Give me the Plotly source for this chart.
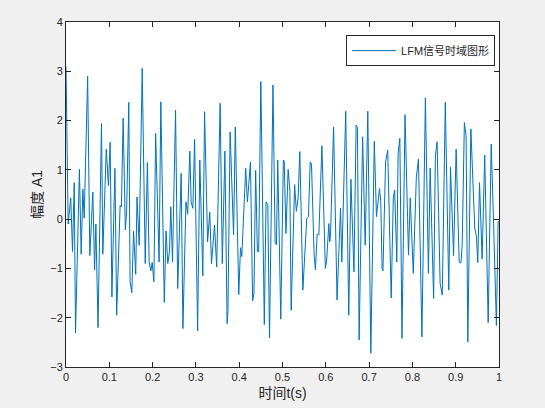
import plotly.graph_objects as go

# values (time in s, amplitude)
t = [
    0.000, 0.005, 0.011, 0.015, 0.019, 0.022, 0.031, 0.035, 0.039, 0.042,
    0.050, 0.055, 0.062, 0.066, 0.069, 0.074, 0.082, 0.085, 0.093, 0.098,
    0.102, 0.106, 0.113, 0.117, 0.125, 0.128, 0.132, 0.137, 0.140, 0.145,
    0.148, 0.152, 0.156, 0.161, 0.164, 0.169, 0.176, 0.183, 0.188, 0.192,
    0.196, 0.199, 0.203, 0.207, 0.215, 0.219, 0.227, 0.231, 0.235, 0.239,
    0.242, 0.246, 0.253, 0.258, 0.266, 0.270, 0.277, 0.281, 0.286, 0.289,
    0.293, 0.297, 0.304, 0.309, 0.316, 0.320, 0.327, 0.332, 0.336, 0.343,
    0.348, 0.356, 0.361, 0.367, 0.372, 0.374, 0.379, 0.387, 0.391, 0.399,
    0.403, 0.406, 0.415, 0.419, 0.426, 0.431, 0.434, 0.438, 0.442, 0.445,
    0.450, 0.458, 0.462, 0.466, 0.470, 0.478, 0.483, 0.486, 0.489, 0.496,
    0.502, 0.504, 0.508, 0.513, 0.517, 0.520, 0.528, 0.532, 0.536, 0.540,
    0.547, 0.556, 0.560, 0.564, 0.567, 0.573, 0.576, 0.580, 0.584, 0.591,
    0.599, 0.602, 0.607, 0.609, 0.611, 0.618, 0.626, 0.634, 0.637, 0.646,
    0.653, 0.658, 0.665, 0.670, 0.673, 0.677, 0.685, 0.691, 0.697, 0.704,
    0.712, 0.717, 0.724, 0.727, 0.730, 0.732, 0.738, 0.743, 0.751, 0.756,
    0.759, 0.764, 0.767, 0.771, 0.776, 0.783, 0.791, 0.795, 0.802, 0.809,
    0.814, 0.822, 0.830, 0.837, 0.841, 0.849, 0.853, 0.857, 0.864, 0.869,
    0.876, 0.884, 0.888, 0.895, 0.901, 0.908, 0.912, 0.915, 0.920, 0.924,
    0.928, 0.935, 0.944, 0.948, 0.951, 0.955, 0.961, 0.967, 0.975, 0.982,
    0.987, 0.994, 0.998, 1.000,
]
a1 = [
    3.09, -0.10, 0.43, -0.66, 0.74, -2.31, 1.01, -0.71, 0.61, 0.02,
    2.90, -0.74, 0.55, -1.03, -0.10, -2.20, 1.94, -0.71, 1.42, 0.68,
    1.56, -1.58, 1.03, -1.95, 0.28, 0.25, 2.05, -0.22, 0.15, 2.37,
    -1.27, -1.49, -0.24, -1.12, 0.45, -0.53, 3.06, -0.90, 1.15, -0.87,
    -1.05, -0.88, -1.27, 1.74, -0.87, 2.38, -1.69, -0.24, -0.90, -0.66,
    0.25, -0.87, 2.21, -1.41, 0.93, -2.22, 0.35, 0.10, 1.38, 0.35,
    0.22, 1.62, -2.27, 1.20, -1.15, 2.18, -0.46, 0.14, -0.90, -0.12,
    -0.97, 2.35, -0.90, 1.38, -2.12, -1.88, 1.77, -0.32, 1.87, -1.53,
    -0.58, -0.76, 1.03, 0.35, 1.16, -1.66, -1.51, 0.99, -0.66, -0.66,
    2.79, -2.14, 0.35, 0.30, -2.41, 2.72, -0.49, -0.52, 1.20, -2.03,
    1.20, 1.18, -0.29, 1.01, 0.59, -1.85, 0.70, 0.16, 0.42, 1.37,
    -1.44, 0.01, 0.05, 1.16, 1.12, -0.73, -1.03, -0.31, -0.31, 1.49,
    -1.00, -0.83, -0.09, -0.46, -0.30, 1.87, -1.64, 0.22, -0.87, 2.19,
    -1.95, 0.81, -1.07, 1.91, 1.85, -2.45, 1.67, -0.53, 2.19, -2.72,
    1.58, 0.05, 0.62, 0.35, -1.00, -1.05, 1.16, 1.40, -1.60, 0.45,
    0.59, -0.87, 1.33, 1.64, -2.42, 2.12, -0.73, 0.43, -1.10, 0.84,
    1.22, -2.39, 2.46, -1.10, 1.04, -1.61, 1.26, 1.57, -1.30, -1.54,
    2.37, -1.44, 1.06, -0.74, 1.42, -0.87, -0.89, -0.53, 1.96, 1.69,
    -2.49, 1.83, -0.18, -0.36, -0.88, 0.74, -0.81, 1.30, -2.10, 1.52,
    0.08, -2.16, -0.05, -0.05,
]

x_ticks = [0, 0.1, 0.2, 0.3, 0.4, 0.5, 0.6, 0.7, 0.8, 0.9, 1]
x_labels = ["0", "0.1", "0.2", "0.3", "0.4", "0.5", "0.6", "0.7", "0.8", "0.9", "1"]
y_ticks = [-3, -2, -1, 0, 1, 2, 3, 4]

AXIS_COLOR = "#262626"
BG = "#f0f0f0"
FONT = "Liberation Sans, Arial, sans-serif"
MIXED_FONT = "Liberation Sans, Noto Sans CJK SC, sans-serif"

fig = go.Figure()
fig.add_trace(go.Scatter(
    x=t,
    y=a1,
    mode="lines",
    line=dict(color="#0072BD", width=1),
    name="LFM信号时域图形",
))

axis_common = dict(
    showline=True,
    linecolor=AXIS_COLOR,
    linewidth=1,
    mirror="ticks",
    ticks="inside",
    ticklen=5,
    tickcolor=AXIS_COLOR,
    showgrid=False,
    zeroline=False,
    automargin=False,
    tickfont=dict(family=FONT, size=11, color=AXIS_COLOR),
)

fig.update_xaxes(
    range=[0, 1],
    tickvals=x_ticks,
    ticktext=x_labels,
    title=dict(text="时间t(s)", font=dict(family=MIXED_FONT, size=14, color=AXIS_COLOR), standoff=5),
    **axis_common,
)
fig.update_yaxes(
    range=[-3, 4],
    tickvals=y_ticks,
    title=dict(text="幅度 A1", font=dict(family=MIXED_FONT, size=14, color=AXIS_COLOR), standoff=4),
    **axis_common,
)

fig.update_layout(
    width=545,
    height=408,
    margin=dict(l=66, r=46, t=22, b=41),
    paper_bgcolor=BG,
    plot_bgcolor="white",
    showlegend=True,
    legend=dict(
        x=0.991,
        y=0.962,
        xanchor="right",
        yanchor="top",
        bgcolor="white",
        bordercolor=AXIS_COLOR,
        borderwidth=1,
        font=dict(family=MIXED_FONT, size=11, color=AXIS_COLOR),
        itemwidth=44,
        tracegroupgap=0,
    ),
)

# drop the default page margin so the figure sits at the window's corner
fig.write_html(
    "out.html",
    config={"displayModeBar": False},
    post_script=f"document.body.style.margin='0';document.body.style.background='{BG}';",
)
